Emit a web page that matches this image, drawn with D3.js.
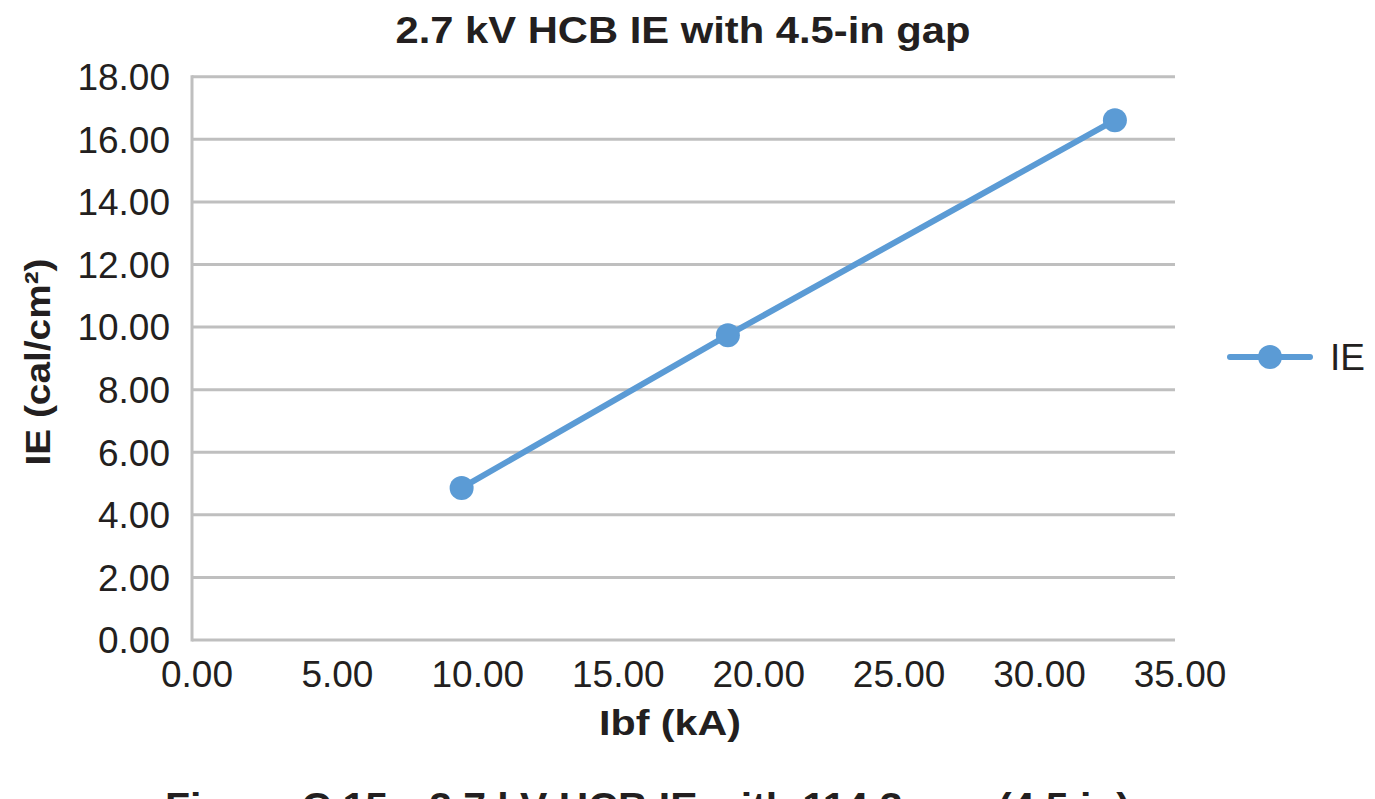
<!DOCTYPE html>
<html>
<head>
<meta charset="utf-8">
<script src="https://cdn.jsdelivr.net/npm/d3@7"></script>
<style>
  body { margin: 0; background: #fff; }
  svg { display: block; font-family: "Liberation Sans", Arial, sans-serif; }
</style>
</head>
<body>
<div id="chart"></div>
<script>
// data
var ibf = [9.60, 19.08, 32.86];       // kA
var ie = [4.86, 9.74, 16.61];         // cal/cm2
var xTicks = [0, 5, 10, 15, 20, 25, 30, 35];
var yTicks = [0, 2, 4, 6, 8, 10, 12, 14, 16, 18];
var seriesName = "IE";

var W = 1375, H = 799;
var plotLeft = 192, plotRight = 1175, plotTop = 76.7, plotBottom = 640;
var blue = "#5b9bd5", grid = "#bfbfbf", ink = "#231f20";

var svg = d3.select("#chart").append("svg")
    .attr("width", W).attr("height", H);

var x = d3.scaleLinear().domain([0, 35]).range([plotLeft, plotRight]);
var y = d3.scaleLinear().domain([0, 18]).range([plotBottom, plotTop]);

// gridlines
svg.append("g").selectAll("line")
    .data(yTicks.filter(function(d) { return d > 0; }))
    .enter().append("line")
    .attr("x1", plotLeft).attr("x2", plotRight)
    .attr("y1", function(d) { return y(d); })
    .attr("y2", function(d) { return y(d); })
    .attr("stroke", grid).attr("stroke-width", 3);

// axis lines
svg.append("line")
    .attr("x1", plotLeft).attr("x2", plotLeft)
    .attr("y1", plotTop - 1.5).attr("y2", plotBottom + 1.5)
    .attr("stroke", grid).attr("stroke-width", 3);
svg.append("line")
    .attr("x1", plotLeft).attr("x2", plotRight)
    .attr("y1", plotBottom).attr("y2", plotBottom)
    .attr("stroke", grid).attr("stroke-width", 3);

// tick labels
svg.append("g").selectAll("text")
    .data(yTicks).enter().append("text")
    .attr("x", 170)
    .attr("y", function(d) { return y(d); })
    .attr("dy", "0.36em")
    .attr("text-anchor", "end")
    .attr("font-size", 37)
    .attr("fill", ink)
    .text(function(d) { return d3.format(".2f")(d); });

svg.append("g").selectAll("text")
    .data(xTicks).enter().append("text")
    .attr("x", function(d) { return x(d) + 5; })
    .attr("y", 687)
    .attr("text-anchor", "middle")
    .attr("font-size", 37)
    .attr("fill", ink)
    .text(function(d) { return d3.format(".2f")(d); });

// series
var pts = ibf.map(function(v, i) { return [v, ie[i]]; });
svg.append("path")
    .datum(pts)
    .attr("fill", "none")
    .attr("stroke", blue)
    .attr("stroke-width", 6)
    .attr("stroke-linecap", "round")
    .attr("d", d3.line().x(function(d) { return x(d[0]); }).y(function(d) { return y(d[1]); }));

svg.append("g").selectAll("circle")
    .data(pts).enter().append("circle")
    .attr("cx", function(d) { return x(d[0]); })
    .attr("cy", function(d) { return y(d[1]); })
    .attr("r", 12)
    .attr("fill", blue);

// titles
svg.append("text")
    .attr("x", 683).attr("y", 43)
    .attr("text-anchor", "middle")
    .attr("font-size", 36).attr("font-weight", "bold")
    .attr("fill", ink)
    .attr("textLength", 575).attr("lengthAdjust", "spacingAndGlyphs")
    .text("2.7 kV HCB IE with 4.5-in gap");

svg.append("text")
    .attr("transform", "translate(50,362) rotate(-90)")
    .attr("text-anchor", "middle")
    .attr("font-size", 35).attr("font-weight", "bold")
    .attr("fill", ink)
    .attr("textLength", 207).attr("lengthAdjust", "spacingAndGlyphs")
    .text("IE (cal/cm²)");

svg.append("text")
    .attr("x", 670).attr("y", 735)
    .attr("text-anchor", "middle")
    .attr("font-size", 35).attr("font-weight", "bold")
    .attr("fill", ink)
    .attr("textLength", 142).attr("lengthAdjust", "spacingAndGlyphs")
    .text("Ibf (kA)");

// legend
var lg = svg.append("g").attr("transform", "translate(1230,357)");
lg.append("line")
    .attr("x1", 0).attr("x2", 80).attr("y1", 0).attr("y2", 0)
    .attr("stroke", blue).attr("stroke-width", 6).attr("stroke-linecap", "round");
lg.append("circle").attr("cx", 40).attr("cy", 0).attr("r", 12).attr("fill", blue);
lg.append("text")
    .attr("x", 100).attr("y", 0).attr("dy", "0.36em")
    .attr("font-size", 37).attr("fill", ink)
    .text(seriesName);

// figure caption, cut off by the bottom edge in the reference
svg.append("text")
    .attr("x", 165).attr("y", 820)
    .attr("font-size", 38).attr("font-weight", "bold")
    .attr("fill", ink)
    .attr("textLength", 965).attr("lengthAdjust", "spacingAndGlyphs")
    .text("Figure C.15—2.7 kV HCB IE with 114.3 mm (4.5 in)");
</script>
</body>
</html>
